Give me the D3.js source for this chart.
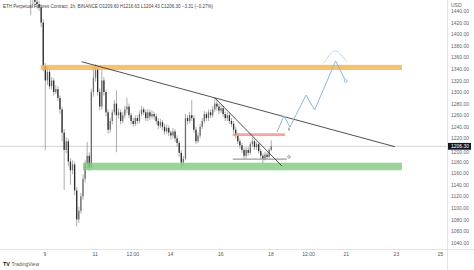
<html>
  <head>
    <meta charset="utf-8">
    <title>ETH Perpetual Futures Contract, 1h</title>
    <script src="https://d3js.org/d3.v7.min.js" charset="utf-8"></script>
    <style>
      body { margin: 0; background: #fff; }
      svg { display: block; font-family: "Liberation Sans", Arial, sans-serif; }
    </style>
  </head>
  <body>
    <script>
      var width = 474,
          height = 270,
          plotRight = 447,
          plotBottom = 249;

      // candles: day of month of the first one, one candle every 2h
      var firstDay = 8.45;
      var firstOpen = 1470;
      var closes = [1465,1460,1456,1452,1446,1420,1345,1320,1335,1310,
        1320,1300,1305,1290,1270,1230,1200,1215,1180,1165,
        1175,1130,1080,1095,1120,1150,1175,1190,1170,1300,
        1325,1340,1300,1275,1320,1300,1265,1235,1250,1265,
        1280,1260,1265,1250,1260,1270,1275,1260,1250,1245,
        1255,1250,1262,1270,1265,1255,1265,1258,1262,1258,
        1250,1242,1248,1240,1232,1238,1230,1225,1232,1220,
        1212,1195,1178,1185,1255,1250,1260,1255,1235,1215,
        1225,1240,1250,1262,1255,1265,1260,1270,1280,1275,
        1268,1272,1262,1255,1260,1250,1245,1235,1225,1215,
        1208,1200,1190,1200,1195,1210,1215,1205,1210,1198,
        1190,1185,1192,1188,1200,1206.3];
      var highs = [1478,1472,1468,1463,1458,1452,1426,1350,1345,1340,
        1326,1324,1312,1310,1294,1274,1236,1222,1220,1186,
        1182,1180,1136,1102,1126,1158,1182,1214,1196,1306,
        1345,1348,1344,1306,1338,1326,1304,1270,1256,1270,
        1286,1303,1272,1270,1266,1276,1290,1280,1264,1256,
        1260,1260,1268,1276,1274,1270,1270,1270,1268,1266,
        1262,1255,1254,1252,1245,1244,1242,1234,1238,1236,
        1225,1216,1200,1190,1262,1260,1266,1286,1260,1240,
        1230,1245,1255,1268,1266,1270,1270,1276,1290,1286,
        1280,1278,1276,1266,1265,1264,1255,1250,1240,1230,
        1220,1212,1204,1205,1205,1214,1222,1218,1214,1212,
        1202,1194,1197,1196,1204,1216.6];
      var lows = [1433,1446,1448,1444,1440,1412,1336,1200,1312,1305,
        1304,1294,1296,1284,1262,1215,1131,1194,1172,1140,
        1158,1122,1068,1074,1090,1114,1144,1168,1164,1166,
        1292,1318,1294,1268,1270,1294,1258,1228,1230,1244,
        1260,1196,1254,1244,1246,1255,1264,1255,1244,1240,
        1241,1244,1246,1258,1260,1250,1250,1252,1254,1252,
        1244,1236,1238,1234,1226,1228,1224,1218,1220,1214,
        1206,1188,1167,1172,1182,1244,1246,1250,1230,1210,
        1212,1220,1236,1246,1250,1250,1255,1256,1266,1268,
        1262,1264,1258,1250,1250,1245,1240,1230,1220,1210,
        1202,1195,1184,1186,1190,1192,1206,1200,1200,1194,
        1185,1177,1182,1184,1186,1198];

      var timeTicks = [9, 11, 12.5, 14, 16, 18, 19.5, 21, 23, 25];
      var timeLabels = ["9", "11", "12:00", "14", "16", "18", "12:00", "21", "23", "25"];
      var priceTicks = [1040,1060,1080,1100,1120,1140,1160,1180,1200,1220,
        1240,1260,1280,1300,1320,1340,1360,1380,1400,1420,1440];
      var lastPrice = 1206.30;
      var title = "ETH Perpetual Futures Contract, 1h, BINANCE  O1209.60  H1216.63  L1204.43  C1206.30  \u22123.31 (\u22120.27%)";

      // drawings: [dayFrom, dayTo, priceLow, priceHigh]
      var orangeZone = [8.85, 23.24, 1338, 1347];
      var greenZone = [10.53, 23.24, 1165, 1178];
      var redZone = [16.5, 18.58, 1224, 1228.8];
      var supportLine = [16.5, 18.65, 1184];
      // trendlines: [[day, price], [day, price]]
      var longTrend = [[10.48, 1352.4], [22.96, 1205.6]];
      var steepTrend = [[15.79, 1289.7], [18.46, 1172.3]];
      // projected path
      var projection = [[18.26, 1231], [18.54, 1258.7], [18.78, 1239.7], [19.42, 1294.9],
        [19.76, 1269], [20.6, 1353.6], [21.0, 1319.1]];
      var arcPts = [[20.11, 1349.7], [20.58, 1371.4], [21.04, 1352.4]];
      var markDot = [18.74, 1188];
      var markTick = [18.74, 1236];

      var x = d3.scaleLinear().domain([9, 25]).range([44.5, 446.1]);
      var y = d3.scaleLinear().domain([1040, 1440]).range([242.6, 11]);

      var svg = d3.select("body").append("svg")
        .attr("width", width)
        .attr("height", height);

      svg.append("rect").attr("width", width).attr("height", height).attr("fill", "#fff");

      svg.append("clipPath").attr("id", "plot")
        .append("rect").attr("width", plotRight).attr("height", plotBottom);

      var plot = svg.append("g").attr("clip-path", "url(#plot)");

      // last price line
      plot.append("line")
        .attr("x1", 0).attr("x2", plotRight)
        .attr("y1", y(lastPrice)).attr("y2", y(lastPrice))
        .attr("stroke", "#d2d2d2").attr("stroke-width", 1);

      var candles = closes.map(function(c, i) {
        return { t: firstDay + i / 12, o: i ? closes[i - 1] : firstOpen, c: c, h: highs[i], l: lows[i] };
      });

      plot.selectAll("line.wick")
        .data(candles).enter()
        .append("line").attr("class", "wick")
        .attr("x1", function(d) { return x(d.t); })
        .attr("x2", function(d) { return x(d.t); })
        .attr("y1", function(d) { return y(d.h); })
        .attr("y2", function(d) { return y(d.l); })
        .attr("stroke", "#777").attr("stroke-width", 0.6);

      plot.selectAll("rect.body")
        .data(candles).enter()
        .append("rect").attr("class", "body")
        .attr("x", function(d) { return x(d.t) - 0.65; })
        .attr("width", 1.3)
        .attr("y", function(d) { return y(Math.max(d.o, d.c)); })
        .attr("height", function(d) { return Math.max(0.7, Math.abs(y(d.o) - y(d.c))); })
        .attr("fill", function(d) { return d.c >= d.o ? "#6e6e6e" : "#2a2a2a"; });

      // zones
      function zone(z, color, op) {
        plot.append("rect")
          .attr("x", x(z[0])).attr("width", x(z[1]) - x(z[0]))
          .attr("y", y(z[3])).attr("height", y(z[2]) - y(z[3]))
          .attr("fill", color).attr("opacity", op);
      }
      zone(orangeZone, "#f6b24a", 0.8);
      zone(greenZone, "#7fcb7f", 0.8);
      zone(redZone, "#ef9a9a", 0.9);

      plot.append("line")
        .attr("x1", x(supportLine[0])).attr("x2", x(supportLine[1]))
        .attr("y1", y(supportLine[2])).attr("y2", y(supportLine[2]))
        .attr("stroke", "#9a9a9a").attr("stroke-width", 1.3);

      var line = d3.line()
        .x(function(d) { return x(d[0]); })
        .y(function(d) { return y(d[1]); });

      [longTrend, steepTrend].forEach(function(t) {
        plot.append("path").attr("d", line(t))
          .attr("fill", "none").attr("stroke", "#3c3c3c").attr("stroke-width", 0.9);
      });

      plot.append("path").attr("d", line(projection))
        .attr("fill", "none").attr("stroke", "#8db5df").attr("stroke-width", 1);

      plot.append("path").attr("d", line.curve(d3.curveCardinal)(arcPts))
        .attr("fill", "none").attr("stroke", "#c2d8ee").attr("stroke-width", 1);

      var last = projection[projection.length - 1];
      plot.append("circle")
        .attr("cx", x(last[0])).attr("cy", y(last[1])).attr("r", 1.4)
        .attr("fill", "#fff").attr("stroke", "#8db5df").attr("stroke-width", 0.8);

      plot.append("circle")
        .attr("cx", x(markDot[0])).attr("cy", y(markDot[1])).attr("r", 1.3)
        .attr("fill", "#fff").attr("stroke", "#888").attr("stroke-width", 0.8);
      plot.append("line")
        .attr("x1", x(markTick[0])).attr("x2", x(markTick[0]))
        .attr("y1", y(markTick[1]) - 1.5).attr("y2", y(markTick[1]) + 1.5)
        .attr("stroke", "#444").attr("stroke-width", 0.8);

      // axis borders
      svg.append("line").attr("x1", plotRight + 0.5).attr("x2", plotRight + 0.5)
        .attr("y1", 0).attr("y2", height).attr("stroke", "#e3e3e3");
      svg.append("line").attr("x1", 0).attr("x2", width)
        .attr("y1", plotBottom + 0.5).attr("y2", plotBottom + 0.5).attr("stroke", "#e3e3e3");

      // price axis
      var yAxis = svg.append("g")
        .attr("transform", "translate(" + plotRight + ",0)")
        .call(d3.axisRight(y).tickValues(priceTicks).tickFormat(d3.format(".2f")).tickSize(0).tickPadding(4));
      yAxis.select(".domain").remove();
      yAxis.selectAll("text").attr("font-size", 5).attr("fill", "#666").attr("font-family", "Liberation Sans, Arial, sans-serif");
      // the 1200 label sits just under the last-price tag
      yAxis.selectAll("text").filter(function(d) { return d === 1200; }).attr("dy", "0.75em");

      svg.append("text").attr("x", 451).attr("y", 6.5)
        .attr("font-size", 5).attr("fill", "#666").text("USD");

      svg.append("rect")
        .attr("x", plotRight + 1).attr("y", y(lastPrice) - 3.4)
        .attr("width", 23).attr("height", 6.8).attr("fill", "#131722");
      svg.append("text")
        .attr("x", plotRight + 4).attr("y", y(lastPrice))
        .attr("dy", "0.35em").attr("font-size", 5).attr("fill", "#fff")
        .text(d3.format(".2f")(lastPrice));

      // time axis
      var xAxis = svg.append("g")
        .attr("transform", "translate(0," + plotBottom + ")")
        .call(d3.axisBottom(x).tickValues(timeTicks)
          .tickFormat(function(d, i) { return timeLabels[i]; })
          .tickSize(0).tickPadding(3));
      xAxis.select(".domain").remove();
      xAxis.selectAll("text").attr("font-size", 5).attr("fill", "#555").attr("font-family", "Liberation Sans, Arial, sans-serif");
      xAxis.selectAll("text").filter(function(d) { return d === 25; }).attr("dx", -6);

      // header and logo
      svg.append("text").attr("x", 3).attr("y", 7.5)
        .attr("font-size", 4.6).attr("fill", "#444")
        .attr("textLength", 210).attr("lengthAdjust", "spacingAndGlyphs")
        .text(title);

      svg.append("text").attr("x", 3).attr("y", 266)
        .attr("font-size", 5.5).attr("font-weight", "bold").attr("fill", "#131722").text("TV");
      svg.append("text").attr("x", 11.5).attr("y", 266)
        .attr("font-size", 5).attr("fill", "#555").text("TradingView");
    </script>
  </body>
</html>
